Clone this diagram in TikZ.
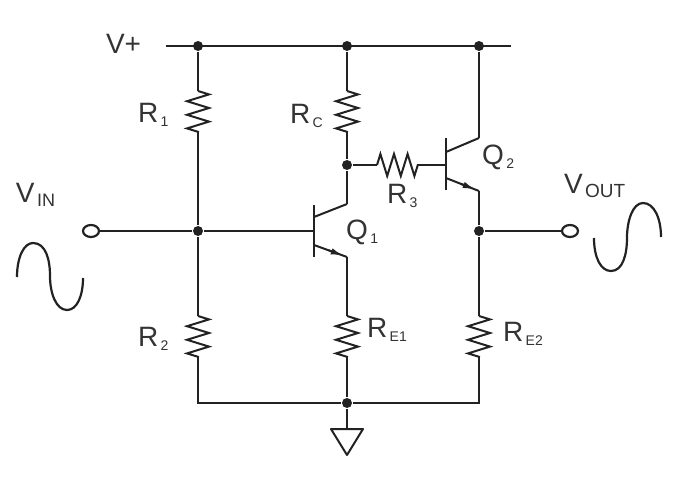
\documentclass[tikz,border=0pt]{standalone}
\usepackage{fontspec}
\setmainfont{Liberation Sans}
\usetikzlibrary{arrows.meta,calc,decorations.pathmorphing,shapes.geometric}
\definecolor{wirecol}{HTML}{222222}
\definecolor{textcol}{HTML}{333333}
\newcommand{\sublab}[3][14]{#2\kern2.5pt\raisebox{-4pt}{\fontsize{#1}{#1}\selectfont #3}}

\begin{document}
\begin{tikzpicture}[x=1pt,y=-1pt,line width=2pt,color=wirecol,
  dot/.style={circle,fill=wirecol,draw=none,inner sep=0pt,minimum size=10pt},
  term/.style={ellipse,draw=wirecol,fill=white,line width=2.2pt,inner sep=0pt,minimum width=16pt,minimum height=12pt},
  res/.style={decorate,decoration={zigzag,segment length=13.6pt,amplitude=11pt}},
  bar/.style={line width=2.2pt},
  emit/.style={-{Latex[length=13pt,width=6.5pt]},shorten >=0pt},
  lab/.style={font=\fontsize{28}{28}\selectfont,text=textcol,inner sep=0pt,anchor=base west}]
  \useasboundingbox (0,0) rectangle (681,480);
  % Junctions
  \node[dot] (topa) at (198,46) {};
  \node[dot] (topb) at (347,46) {};
  \node[dot] (topc) at (479,46) {};
  \node[dot] (inj) at (198,231) {};
  \node[dot] (outj) at (479,231) {};
  \node[dot] (colj) at (347,165) {};
  \node[dot] (gndj) at (347,403) {};
  \node[term] (vin) at (91,231) {};
  \node[term] (vout) at (570,231) {};
  \coordinate (railw) at (166,46);
  \coordinate (raile) at (511,46);
  % Supply rail
  \draw (railw) -- (raile);
  % Resistor ends
  \coordinate (r1t) at (198,91);
  \coordinate (r1b) at (198,132);
  \coordinate (r2t) at (198,316);
  \coordinate (r2b) at (198,357);
  \coordinate (rct) at (347,91);
  \coordinate (rcb) at (347,132);
  \coordinate (re1t) at (347,316);
  \coordinate (re1b) at (347,357);
  \coordinate (re2t) at (479,316);
  \coordinate (re2b) at (479,357);
  \coordinate (r3l) at (377,165);
  \coordinate (r3r) at (418,165);
  \foreach \p/\q in {r1t/r1b, r2t/r2b, rct/rcb, re1t/re1b, re2t/re2b, r3l/r3r} {
    \draw[res] (\p) -- (\q);
  }
  % Transistor Q1
  \coordinate (q1b) at (314,231);
  \coordinate (q1u) at (314,205);
  \coordinate (q1d) at (314,257);
  \coordinate (q1c) at (314,217);
  \coordinate (q1e) at (314,245);
  \coordinate (q1cx) at (347,204);
  \coordinate (q1ex) at (347,257);
  \draw[bar] (q1u) -- (q1d);
  \draw (q1c) -- (q1cx);
  \draw (q1e) -- (q1ex);
  \draw[emit] ($(q1e)!0.45!(q1ex)$) -- ($(q1e)!0.9!(q1ex)$);
  % Transistor Q2
  \coordinate (q2b) at (446,165);
  \coordinate (q2u) at (446,138);
  \coordinate (q2d) at (446,190);
  \coordinate (q2c) at (446,152);
  \coordinate (q2e) at (446,178);
  \coordinate (q2cx) at (479,138);
  \coordinate (q2ex) at (479,191);
  \draw[bar] (q2u) -- (q2d);
  \draw (q2c) -- (q2cx);
  \draw (q2e) -- (q2ex);
  \draw[emit] ($(q2e)!0.45!(q2ex)$) -- ($(q2e)!0.9!(q2ex)$);
  % Wires
  \draw (topa) -- (r1t);
  \draw (r1b) -- (inj);
  \draw (inj) -- (r2t);
  \draw (r2b) -- (198,403) -- (gndj);
  \draw (topb) -- (rct);
  \draw (rcb) -- (colj);
  \draw (colj) -- (q1cx);
  \draw (q1ex) -- (re1t);
  \draw (re1b) -- (gndj);
  \draw (colj) -- (r3l);
  \draw (r3r) -- (q2b);
  \draw (topc) -- (q2cx);
  \draw (q2ex) -- (outj);
  \draw (outj) -- (re2t);
  \draw (re2b) -- (479,403) -- (gndj);
  \draw (vin) -- (inj);
  \draw (inj) -- (q1b);
  \draw (outj) -- (vout);
  % Ground
  \coordinate (gndt) at (347,429);
  \draw (gndj) -- (gndt);
  \draw[line join=round] (331,429) -- (363,429) -- (347,455) -- cycle;
  % Signal waves
  \draw[line width=2.2pt] (17,277) .. controls (17,257) and (24,243) .. (33,243)
    .. controls (46,243) and (50,260) .. (50,276)
    .. controls (50,293) and (56,310) .. (67,310)
    .. controls (77,310) and (83,296) .. (83,278);
  \draw[line width=2.2pt] (594,238) .. controls (594,258) and (601,271) .. (611,271)
    .. controls (623,271) and (627,254) .. (627,238)
    .. controls (627,220) and (633,203) .. (643,203)
    .. controls (654,203) and (661,218) .. (661,237);
  % Labels
  \node[lab] (lvp) at (105,53) {V+};
  \node[lab] (lr1) at (137,122) {\sublab{R}{1}};
  \node[lab] (lrc) at (289,123) {\sublab{R}{C}};
  \node[lab] (lr3) at (386,203) {\sublab{R}{3}};
  \node[lab] (lq1) at (345,239) {\sublab{Q}{1}};
  \node[lab] (lq2) at (481,164) {\sublab{Q}{2}};
  \node[lab] (lr2) at (137,346) {\sublab{R}{2}};
  \node[lab] (lre1) at (366,337) {\sublab{R}{E1}};
  \node[lab] (lre2) at (502,341) {\sublab{R}{E2}};
  \node[lab] (lvin) at (15,202) {\sublab[18]{V}{IN}};
  \node[lab] (lvout) at (563,193) {\sublab[19]{V}{OUT}};
\end{tikzpicture}
\end{document}
